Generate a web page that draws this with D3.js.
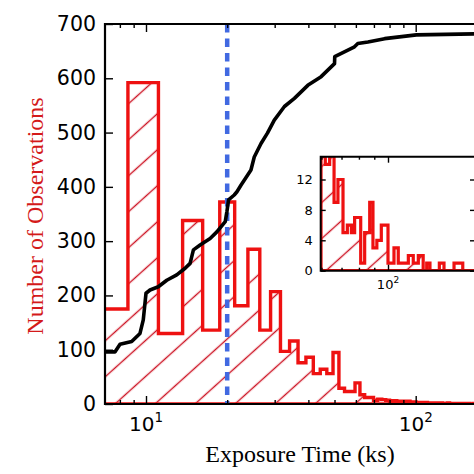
<!DOCTYPE html>
<html>
<head>
<meta charset="utf-8">
<script src="https://cdn.jsdelivr.net/npm/d3@7"></script>
<style>
  html, body { margin: 0; padding: 0; background: #fff; }
  svg { display: block; }
  .tick text { font-family: "DejaVu Sans", sans-serif; fill: #000; }
</style>
</head>
<body>
<div id="chart"></div>
<script>
// main histogram: linear bins (ks), counts
const histEdges = [6.02, 8.57, 11.12, 13.67, 16.22, 18.77, 21.32, 23.87, 26.42, 28.97, 31.52, 34.07,
  36.62, 39.17, 41.72, 44.27, 46.82, 49.37, 51.92, 54.47, 57.02, 59.57, 62.12, 64.67, 67.22, 69.77,
  72.32, 74.87, 77.42, 79.97, 82.52, 85.07, 87.62, 90.17, 92.72, 95.27, 97.82, 100.37, 102.92, 105.47,
  108.02, 110.57, 113.12, 115.67, 118.22, 120.77, 123.32, 125.87, 128.42, 130.97, 133.52, 136.07,
  138.62, 141.17, 143.72, 146.27, 148.82, 151.37, 153.92, 156.47, 159.02, 161.57, 164.12, 166.67, 169.22];
const histCounts = [175, 592, 130, 338, 136, 372, 181, 285, 136, 207, 97, 116, 76, 86, 56, 64, 56, 95,
  29, 23, 23, 39, 17, 12, 12, 7,
  9, 8, 7, 6, 6, 5, 5, 4, 5, 3, 4, 3, 3, 2, 3, 2, 2, 1, 2, 1, 2, 1, 1, 2, 1, 1, 0, 1, 1, 0,
  1, 0, 1, 1, 0, 0, 1, 0];

// cumulative number of observations
const cumX = [7.0, 7.67, 8.01, 8.85, 9.5, 9.77, 10.0, 10.35, 11.11, 11.94, 13.0, 13.96, 14.57, 14.99,
  15.87, 17.29, 18.31, 19.67, 19.95, 20.23, 21.24, 21.74, 22.49, 24.5, 25.2, 26.7, 28.2, 29.9, 32.6,
  35.5, 39.8, 44.6, 50.0, 50.1, 59.3, 61.0, 66.5, 76.7, 100.6, 170];
const cumY = [96, 96, 110, 115, 130, 155, 204, 210, 216, 228, 238, 250, 259, 284, 293, 305, 317, 336,
  354, 376, 385, 391, 403, 431, 455, 480, 499, 523, 548, 563, 587, 603, 627, 640, 658, 664, 667, 673,
  680, 682];

const cutValue = 20;

// inset histogram
const insetEdges = [59.8, 61.8, 63.9, 66.1, 68.1, 70.8, 73.2, 75.5, 77.4, 81.1, 83.6, 86.9, 89.1, 91.8,
  95.0, 100.0, 102.3, 104.7, 108.2, 112.5, 116.9, 121.4, 126.2, 131.0, 134.6, 138.0, 143.0, 148.3,
  153.7, 160.0, 166.0, 171.5, 177.5, 195];
const insetCounts = [15, 14, 17, 9, 12, 5, 6, 5, 7, 1, 5, 9, 3, 4, 6,
  1, 1, 3, 1, 1, 2, 1, 2, 0, 1, 0, 0, 1, 0, 0, 1, 1, 0];

const yTicks = [0, 100, 200, 300, 400, 500, 600, 700];
const xMajor = [10, 100];
const xMajorExp = ["1", "2"];
const xMinor = [8, 9, 20, 30, 40, 50, 60, 70, 80, 90, 200];
const insetYTicks = [0, 4, 8, 12];
const insetXMinor = [60, 70, 80, 90, 200];

const W = 474, H = 474;
const RED = "#ee1111", HATCH = "#cc1122";

const svg = d3.select("#chart").append("svg").attr("width", W).attr("height", H);
const defs = svg.append("defs");

// main axes frame
const L = 105, R = 495, T = 24, B = 404;
const x = d3.scaleLog().domain([10, 100]).range([146, 415.7]);
const y = d3.scaleLinear().domain([0, 700]).range([B, T]);

// inset frame
const iL = 320.7, iR = 476, iT = 156.7, iB = 270.7;
const ix = d3.scaleLog().domain([100, 1000]).range([388, 688]);
const iy = d3.scaleLinear().domain([0, 15]).range([iB, iT]);

function hatch(id, x0, y0) {
  const d = 40 * Math.sin(42 * Math.PI / 180);
  const p = defs.append("pattern").attr("id", id)
    .attr("patternUnits", "userSpaceOnUse")
    .attr("width", d).attr("height", 10)
    .attr("patternTransform", `translate(${x0},${y0}) rotate(48) translate(${-d / 2},0)`);
  p.append("line").attr("x1", d / 2).attr("x2", d / 2).attr("y1", -2).attr("y2", 12)
    .attr("stroke", HATCH).attr("stroke-width", 1.4);
}
hatch("hatchMain", 115, 404);
hatch("hatchInset", 326, 270.7);

defs.append("clipPath").attr("id", "clipMain").append("rect")
  .attr("x", L).attr("y", T).attr("width", R - L).attr("height", B - T);
defs.append("clipPath").attr("id", "clipInset").append("rect")
  .attr("x", iL).attr("y", iT).attr("width", iR - iL).attr("height", iB - iT);

function stepPoints(edges, counts) {
  const pts = [[edges[0], 0]];
  counts.forEach((c, i) => { pts.push([edges[i], c]); pts.push([edges[i + 1], c]); });
  pts.push([edges[edges.length - 1], 0]);
  return pts;
}

// --- main plot ---
const plot = svg.append("g").attr("clip-path", "url(#clipMain)");

const histLine = d3.line().x(d => x(d[0])).y(d => y(d[1]));
plot.append("path")
  .attr("d", histLine(stepPoints(histEdges, histCounts)) + "Z")
  .attr("fill", "url(#hatchMain)")
  .attr("stroke", RED).attr("stroke-width", 3.4).attr("stroke-linejoin", "miter");

plot.append("line")
  .attr("x1", x(cutValue)).attr("x2", x(cutValue)).attr("y1", T).attr("y2", B)
  .attr("stroke", "#4169e1").attr("stroke-width", 4.5).attr("stroke-dasharray", "8.5,6");

const cumLine = d3.line().x((d, i) => x(cumX[i])).y(d => y(d));
plot.append("path").attr("d", cumLine(cumY))
  .attr("fill", "none").attr("stroke", "#000").attr("stroke-width", 3.6)
  .attr("stroke-linejoin", "round");

// axes ticks (inward)
function noDomain(g) { g.select(".domain").remove(); g.selectAll("line").attr("stroke-width", 1.4); }

svg.append("g").attr("transform", `translate(0,${B})`)
  .call(d3.axisBottom(x).tickValues(xMajor).tickSize(-8).tickFormat("")).call(noDomain);
svg.append("g").attr("transform", `translate(0,${B})`)
  .call(d3.axisBottom(x).tickValues(xMinor).tickSize(-4).tickFormat("")).call(noDomain);
svg.append("g").attr("transform", `translate(0,${T})`)
  .call(d3.axisTop(x).tickValues(xMajor).tickSize(-8).tickFormat("")).call(noDomain);
svg.append("g").attr("transform", `translate(0,${T})`)
  .call(d3.axisTop(x).tickValues(xMinor).tickSize(-4).tickFormat("")).call(noDomain);

const yAxis = svg.append("g").attr("transform", `translate(${L},0)`)
  .call(d3.axisLeft(y).tickValues(yTicks).tickSize(-8).tickPadding(9)).call(noDomain);
yAxis.selectAll("text").style("font-size", "20.5px");

// x tick labels 10^n
const xl = svg.append("g");
xMajor.forEach((v, i) => {
  const t = xl.append("text").attr("x", x(v)).attr("y", 430.7)
    .attr("text-anchor", "middle").style("font-family", "DejaVu Sans, sans-serif").style("font-size", "20px");
  t.append("tspan").text("10");
  t.append("tspan").attr("dy", -9).style("font-size", "13.5px").text(xMajorExp[i]);
});

// spines
svg.append("path")
  .attr("d", `M${R},${T}H${L}V${B}H${R}`)
  .attr("fill", "none").attr("stroke", "#000").attr("stroke-width", 2.2);

// axis labels
svg.append("text")
  .attr("x", 300).attr("y", 462)
  .attr("text-anchor", "middle")
  .style("font-family", "Liberation Serif, serif").style("font-size", "24px")
  .text("Exposure Time (ks)");

svg.append("text")
  .attr("transform", "translate(42.5,216) rotate(-90)")
  .attr("text-anchor", "middle")
  .style("font-family", "Liberation Serif, serif").style("font-size", "24px")
  .attr("fill", "#d41a1a")
  .text("Number of Observations");

// --- inset ---
svg.append("rect").attr("x", iL).attr("y", iT).attr("width", iR - iL).attr("height", iB - iT)
  .attr("fill", "#fff");

const inset = svg.append("g").attr("clip-path", "url(#clipInset)");
const insetLine = d3.line().x(d => ix(d[0])).y(d => iy(d[1]));
inset.append("path")
  .attr("d", insetLine(stepPoints(insetEdges, insetCounts)) + "Z")
  .attr("fill", "url(#hatchInset)")
  .attr("stroke", RED).attr("stroke-width", 3.2);

svg.append("g").attr("transform", `translate(0,${iB})`)
  .call(d3.axisBottom(ix).tickValues([100]).tickSize(-6).tickFormat("")).call(noDomain);
svg.append("g").attr("transform", `translate(0,${iB})`)
  .call(d3.axisBottom(ix).tickValues(insetXMinor).tickSize(-3).tickFormat("")).call(noDomain);
svg.append("g").attr("transform", `translate(0,${iT})`)
  .call(d3.axisTop(ix).tickValues([100]).tickSize(-6).tickFormat("")).call(noDomain);
svg.append("g").attr("transform", `translate(0,${iT})`)
  .call(d3.axisTop(ix).tickValues(insetXMinor).tickSize(-3).tickFormat("")).call(noDomain);

const iyAxis = svg.append("g").attr("transform", `translate(${iL},0)`)
  .call(d3.axisLeft(iy).tickValues(insetYTicks).tickSize(-5).tickPadding(8)).call(noDomain);
iyAxis.selectAll("text").style("font-size", "13px");
svg.append("g").attr("transform", `translate(${iR - 1},0)`)
  .call(d3.axisRight(iy).tickValues(insetYTicks).tickSize(-5).tickFormat("")).call(noDomain);

const il = svg.append("text").attr("x", ix(100)).attr("y", 289)
  .attr("text-anchor", "middle").style("font-family", "DejaVu Sans, sans-serif").style("font-size", "13px");
il.append("tspan").text("10");
il.append("tspan").attr("dy", -6).style("font-size", "9px").text("2");

svg.append("path")
  .attr("d", `M${iR},${iT}H${iL}V${iB}H${iR}`)
  .attr("fill", "none").attr("stroke", "#000").attr("stroke-width", 2);
</script>
</body>
</html>
